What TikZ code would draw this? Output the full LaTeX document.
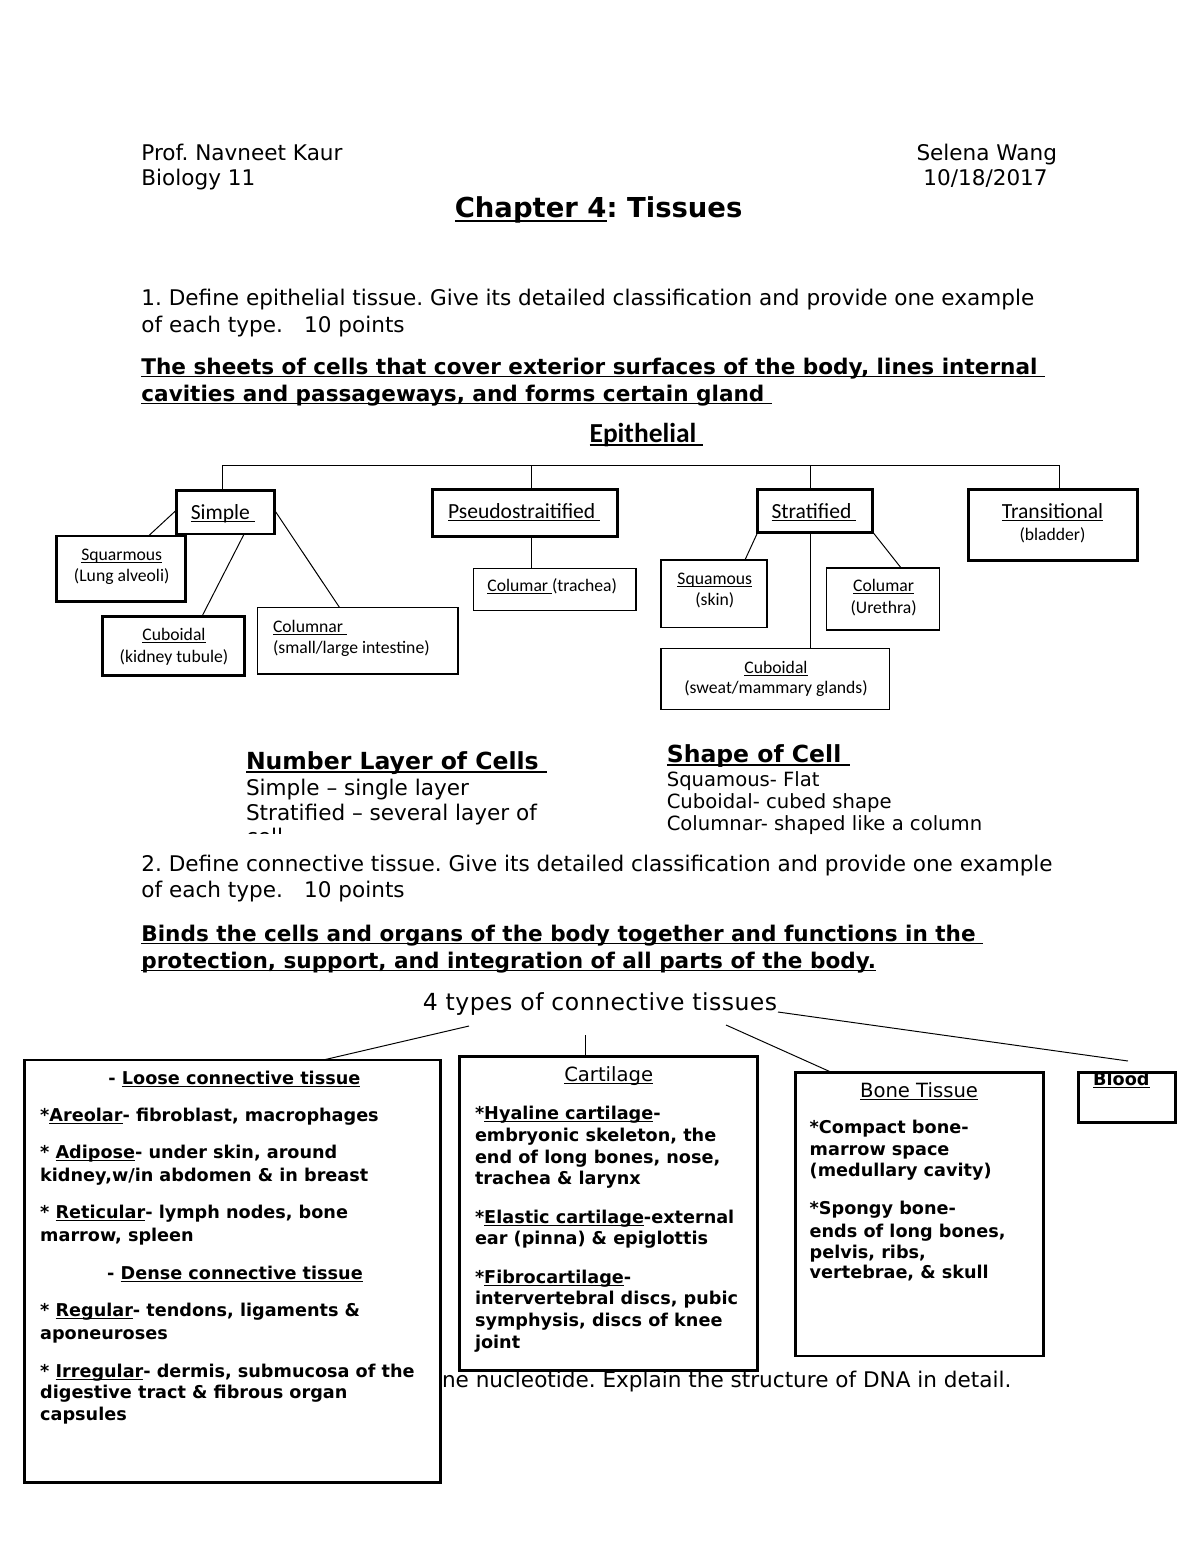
\documentclass[tikz,border=0pt]{standalone}
\usepackage{fontspec}
\setmainfont{DejaVu Sans}
\newfontfamily\carl{Carlito}
\usetikzlibrary{fit,calc}
\frenchspacing
\newcommand\bx[6]{\node[#1, fit={(#3,#4) (#5,#6)}] (#2) {};}
\newcommand\uln[1]{\setbox0\hbox{#1}\rlap{\vrule width\wd0 height -0.09em depth 0.15em}\box0}
\begin{document}
\begin{tikzpicture}[x=0.51pt,y=-0.51pt,
  txt/.style={inner sep=0pt, outer sep=0pt},
  rg/.style={txt, anchor=base west, font=\fontsize{11}{13}\selectfont},
  bd/.style={txt, anchor=base west, font=\fontsize{11}{13}\selectfont\bfseries},
  sm/.style={txt, anchor=base west, font=\fontsize{10}{12}\selectfont},
  hb/.style={txt, anchor=base west, font=\fontsize{12}{14}\selectfont\bfseries},
  cb/.style={txt, anchor=base west, font=\fontsize{9}{11}\selectfont\bfseries},
  cbc/.style={txt, anchor=base, font=\fontsize{9}{11}\selectfont\bfseries},
  cr/.style={txt, anchor=base, font=\fontsize{10}{12}\selectfont},
  ch/.style={txt, anchor=base west, font=\carl\fontsize{11}{13}\selectfont},
  chc/.style={txt, anchor=base, font=\carl\fontsize{11}{13}\selectfont},
  cs/.style={txt, anchor=base, font=\carl\fontsize{9}{11}\selectfont},
  csw/.style={txt, anchor=base west, font=\carl\fontsize{9}{11}\selectfont},
  thk/.style={draw, line width=1.5pt, inner sep=0pt, outer sep=0pt, fill=white},
  thn/.style={draw, line width=0.75pt, inner sep=0pt, outer sep=0pt, fill=white},
  conn/.style={line width=0.5pt}]
\fill[white] (0,0) rectangle (1200,1553);
\useasboundingbox (0,0) rectangle (1200,1553);

% header
\node[rg] (prof) at (141.4,161) {Prof. Navneet Kaur};
\node[rg] (bio) at (141.4,186) {Biology 11};
\node[rg, anchor=base east] (selena) at (1057,161) {Selena Wang};
\node[rg, anchor=base east] (date) at (1047.7,186) {10/18/2017};
\node[txt, anchor=base, font=\fontsize{14}{16}\selectfont\bfseries] (title) at (598.6,218) {\uln{Chapter 4}: Tissues};

\node[rg] (q1a) at (141.4,305) {1. Define epithelial tissue. Give its detailed classification and provide one example};
\node[rg] (q1b) at (141.4,332) {of each type.\hspace*{10.8pt}10 points};
\node[bd] (d1a) at (141.4,374) {\uln{The sheets of cells that cover exterior surfaces of the body, lines internal\ }};
\node[bd] (d1b) at (141.4,401) {\uln{cavities and passageways, and forms certain gland\ }};

% epithelial tree
\node[txt, anchor=base west, font=\carl\fontsize{14}{16}\selectfont\bfseries] (epi) at (589.6,442) {\uln{Epithelial\ }};

\bx{thk}{simple}{176.3}{490.7}{274.6}{534}
\bx{thk}{squarm}{56.9}{536}{185.1}{601.7}
\bx{thk}{cubk}{102.4}{616.7}{244.4}{675.7}
\bx{thn}{colint}{257.4}{607.7}{458}{674}
\bx{thk}{pseudo}{432.7}{489.3}{617.2}{536.7}
\bx{thn}{coltr}{473.3}{568.3}{636}{610.7}
\bx{thk}{strat}{757.7}{489.3}{872.9}{532.3}
\bx{thn}{squam}{661.2}{560}{767.2}{627.3}
\bx{thn}{colur}{826.6}{568}{939.5}{630}
\bx{thn}{cubsw}{661.2}{648.7}{889.7}{709.3}
\bx{thk}{trans}{968.2}{489.3}{1137.3}{560.7}

\coordinate (busL) at (222,465);
\coordinate (busP) at (531.4,465);
\coordinate (busS) at (810.9,465);
\coordinate (busR) at (1059,465);
\draw[conn] (busL) -- (busR);
\draw[conn] (busL) -- (busL |- simple.north);
\draw[conn] (busP) -- (busP |- pseudo.north);
\draw[conn] (busS) -- (busS |- strat.north);
\draw[conn] (busR) -- (busR |- trans.north);

\draw[conn] ($(simple.north west)!0.45!(simple.south west)$) -- ($(squarm.north west)!0.714!(squarm.north east)$);
\draw[conn] ($(simple.south west)!0.69!(simple.south east)$) -- ($(cubk.north west)!0.70!(cubk.north east)$);
\draw[conn] ($(simple.north east)!0.45!(simple.south east)$) -- ($(colint.north west)!0.41!(colint.north east)$);
\draw[conn] (busP |- pseudo.south) -- (busP |- coltr.north);
\draw[conn] (strat.south west) -- ($(squam.north west)!0.79!(squam.north east)$);
\draw[conn] (strat.south east) -- ($(colur.north west)!0.66!(colur.north east)$);
\draw[conn] (busS |- strat.south) -- (busS |- cubsw.north);

\node[ch] (tsimple) at (190.8,519) {\uln{Simple\ }};
\node[ch] (tpseudo) at (448,518) {\uln{Pseudostraitified\ }};
\node[ch] (tstrat) at (771.5,518) {\uln{Stratified\ }};
\node[chc] (ttrans) at (1052.5,518) {\uln{Transitional}};
\node[cs] (ttrans2) at (1052.5,540) {(bladder)};
\node[cs] (tsq1) at (121.7,560) {\uln{Squarmous}};
\node[cs] (tsq2) at (121.7,581) {(Lung alveoli)};
\node[cs] (tcu1) at (174,640) {\uln{Cuboidal}};
\node[cs] (tcu2) at (174,662) {(kidney tubule)};
\node[csw] (tco1) at (273,632) {\uln{Columnar\ }};
\node[csw] (tco2) at (273,653) {(small/large intestine)};
\node[csw] (ttr) at (487.4,591) {\uln{Columar\ }(trachea)};
\node[cs] (tsk1) at (714.8,584) {\uln{Squamous}};
\node[cs] (tsk2) at (714.8,605) {(skin)};
\node[cs] (tur1) at (883.6,591) {\uln{Columar}};
\node[cs] (tur2) at (883.6,613) {(Urethra)};
\node[cs] (tsw1) at (776,673) {\uln{Cuboidal}};
\node[cs] (tsw2) at (776,693) {(sweat/mammary glands)};

% number layer / shape
\node[hb] (nlh) at (246,769) {\uln{Number Layer of Cells\ }};
\node[rg] (nl1) at (246,795) {Simple – single layer};
\node[rg] (nl2) at (246,820) {Stratified – several layer of};
\begin{scope}
\clip (230,700) rectangle (640,833);
\node[rg] (nl3) at (246,844) {cell};
\end{scope}
\node[hb] (sch) at (666.8,762) {\uln{Shape of Cell\ }};
\node[sm] (sc1) at (666.8,786) {Squamous- Flat};
\node[sm] (sc2) at (666.8,808) {Cuboidal- cubed shape};
\node[sm] (sc3) at (666.8,830) {Columnar- shaped like a column};

% question 2
\node[rg] (q2a) at (141.4,871) {2. Define connective tissue. Give its detailed classification and provide one example};
\node[rg] (q2b) at (141.4,897) {of each type.\hspace*{10.8pt}10 points};
\node[bd] (d2a) at (141.4,941) {\uln{Binds the cells and organs of the body together and functions in the\ }};
\node[bd] (d2b) at (141.4,968) {\uln{protection, support, and integration of all parts of the body.}};
\node[txt, anchor=base, font=\fontsize{12}{14}\selectfont\addfontfeatures{LetterSpace=2}] (types) at (600,1010) {4 types of connective tissues};

% question 3 (partly hidden)
\node[rg] (q3) at (442,1387) {ne nucleotide. Explain the structure of DNA in detail.};

% connective boxes
\bx{thk}{loose}{24.5}{1060}{440.5}{1482.7}
\bx{thk}{cart}{459.5}{1056.7}{757.6}{1370.7}
\bx{thk}{bone}{795.2}{1072.3}{1043.5}{1356}
\bx{thk}{blood}{1078.4}{1072.7}{1175.9}{1122.7}

\coordinate (t1) at (469,1026);
\coordinate (t2) at (585,1035);
\coordinate (t3) at (726,1025);
\coordinate (t4) at (778,1012);
\coordinate (t5) at (1128,1061);
\draw[conn] (t1) -- ($(loose.north west)!0.718!(loose.north east)$);
\draw[conn] (t2) -- (t2 |- cart.north);
\draw[conn] (t3) -- ($(bone.north west)!0.146!(bone.north east)$);
\draw[conn] (t4) -- (t5);

% loose
\node[cbc] (l0) at (234.4,1084) {- \uln{Loose connective tissue}};
\node[cb] (l1) at (40.2,1121) {*\uln{Areolar}- fibroblast, macrophages};
\node[cb] (l2) at (40.2,1158) {* \uln{Adipose}- under skin, around};
\node[cb] (l3) at (40.2,1181) {kidney,w/in abdomen \& in breast};
\node[cb] (l4) at (40.2,1218) {* \uln{Reticular}- lymph nodes, bone};
\node[cb] (l5) at (40.2,1241) {marrow, spleen};
\node[cbc] (l6) at (235,1279) {- \uln{Dense connective tissue}};
\node[cb] (l7) at (40.2,1316) {* \uln{Regular}- tendons, ligaments \&};
\node[cb] (l8) at (40.2,1339) {aponeuroses};
\node[cb] (l9) at (40.2,1377) {* \uln{Irregular}- dermis, submucosa of the};
\node[cb] (l10) at (40.2,1398) {digestive tract \& fibrous organ};
\node[cb] (l11) at (40.2,1420) {capsules};

% cartilage
\node[cr] (c0) at (608.7,1081) {\uln{Cartilage}};
\node[cb] (c1) at (475,1119) {*\uln{Hyaline cartilage}-};
\node[cb] (c2) at (475,1141) {embryonic skeleton, the};
\node[cb] (c3) at (475,1163) {end of long bones, nose,};
\node[cb] (c4) at (475,1184) {trachea \& larynx};
\node[cb] (c5) at (475,1223) {*\uln{Elastic cartilage}-external};
\node[cb] (c6) at (475,1244) {ear (pinna) \& epiglottis};
\node[cb] (c7) at (475,1283) {*\uln{Fibrocartilage}-};
\node[cb] (c8) at (475,1304) {intervertebral discs, pubic};
\node[cb] (c9) at (475,1326) {symphysis, discs of knee};
\node[cb] (c10) at (475,1348) {joint};

% bone
\node[cr] (b0) at (919,1097) {\uln{Bone Tissue}};
\node[cb] (b1) at (809.7,1133) {*Compact bone-};
\node[cb] (b2) at (809.7,1155) {marrow space};
\node[cb] (b3) at (809.7,1176) {(medullary cavity)};
\node[cb] (b4) at (809.7,1214) {*Spongy bone-};
\node[cb] (b5) at (809.7,1237) {ends of long bones,};
\node[cb] (b6) at (809.7,1258) {pelvis, ribs,};
\node[cb] (b7) at (809.7,1278) {vertebrae, \& skull};

% blood
\node[cbc] (bl) at (1121.4,1085) {\uln{Blood}};
\end{tikzpicture}
\end{document}
